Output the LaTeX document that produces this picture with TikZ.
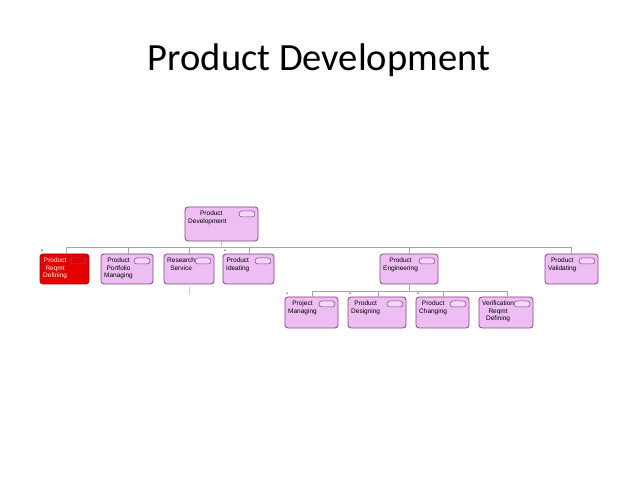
\documentclass[tikz,border=0pt]{standalone}
\usepackage{fontspec}
\setmainfont{Carlito}
\newfontfamily\boxfont{Liberation Sans}
\begin{document}
\begin{tikzpicture}[x=1pt,y=-1pt,
  svc/.style={draw=violet!45!gray,fill=pinkfill,rounded corners=3pt,line width=0.8pt},
  red svc/.style={svc,fill=red!90!black,draw=red!70!black},
  lbl/.style={font=\boxfont\fontsize{6.5}{7.5}\selectfont,align=center,anchor=north west,inner sep=0pt},
  wire/.style={draw=gray!70,line width=0.6pt}]
\definecolor{pinkfill}{HTML}{EDBDF3}
\useasboundingbox (0,0) rectangle (638,478);
\node[font=\fontsize{38.5}{44}\selectfont] (title) at (319,60) {Product Development};
\newcommand{\svcbox}[8]{% name, x1,y1,x2,y2, style, pill fill, text
  \draw[#6] (#2,#3) rectangle (#4,#5);
  \coordinate (#1) at ({(#2+#4)/2},#3);
  \coordinate (#1b) at ({(#2+#4)/2},#5);
  \draw[draw=violet!45!gray,fill=#7,rounded corners=3pt,line width=0.5pt] (#4-19,#3+4) rectangle (#4-3,#3+10);
  \node[lbl] (#1t) at (#2+3,#3+4) {#8};}
\svcbox{pd}{185}{207}{258}{241}{svc}{white!40!pinkfill}{\hspace*{8pt}Product\\Development}
\svcbox{prd}{40}{254}{89}{284}{red svc}{red!90!black}{\textcolor{white}{Product}\\\textcolor{white}{Reqmt}\\\textcolor{white}{Defining}}
\svcbox{ppm}{101}{254}{153}{284}{svc}{white!40!pinkfill}{Product\\Portfolio\\Managing}
\svcbox{rs}{164}{254}{214}{284}{svc}{white!40!pinkfill}{Research\\Service}
\svcbox{pi}{223}{254}{274}{284}{svc}{white!40!pinkfill}{Product\\Ideating}
\svcbox{pe}{380}{254}{438}{284}{svc}{white!40!pinkfill}{Product\\Engineering}
\svcbox{pv}{545}{254}{598}{284}{svc}{white!40!pinkfill}{Product\\Validating}
\svcbox{pm}{285}{297}{338}{328}{svc}{white!40!pinkfill}{Project\\Managing}
\svcbox{pds}{348}{297}{406}{328}{svc}{white!40!pinkfill}{Product\\Designing}
\svcbox{pc}{416}{297}{469}{328}{svc}{white!40!pinkfill}{Product\\Changing}
\svcbox{vrd}{479}{297}{533}{328}{svc}{white!40!pinkfill}{Verification\\Reqmt\\Defining}
\coordinate (bus) at (222,247);
\draw[wire] (pdb) -- (bus);
\draw[wire] (66,247) -- (571,247);
\draw[wire] (66,247) -- (66,254);
\draw[wire] (128,247) -- (128,254);
\draw[wire] (189,247) -- (189,254);
\draw[wire] (249,247) -- (249,254);
\draw[wire] (409,247) -- (pe);
\draw[wire] (571,247) -- (571,254);
\draw[wire] (peb) -- (409,291);
\draw[wire] (312,291) -- (507,291);
\draw[wire] (312,291) -- (312,297);
\draw[wire] (378,291) -- (378,297);
\draw[wire] (443,291) -- (443,297);
\draw[wire] (507,291) -- (507,297);
\draw[gray!40,line width=0.4pt] (rsb) ++(0,3) -- ++(0,8);
\foreach \p in {(42,250),(225,250),(287,293),(350,293),(418,293)}
  \fill[gray!70] \p ++(-1.2,0.8) -- ++(2.4,0) -- ++(-1.2,-2) -- cycle;
\end{tikzpicture}
\end{document}
